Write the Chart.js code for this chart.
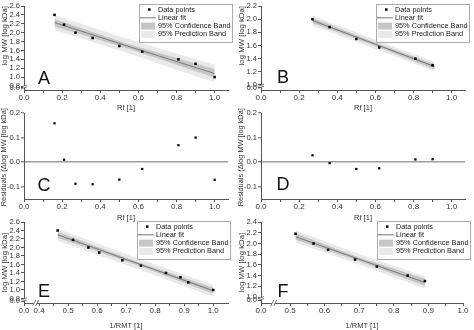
<!DOCTYPE html>
<html>
<head>
<meta charset="utf-8">
<script src="https://cdn.jsdelivr.net/npm/chart.js@4.4.1/dist/chart.umd.min.js"></script>
<style>
  body { margin: 0; background: #fff; }
  #fig { position: relative; width: 474px; height: 330px; overflow: hidden; }
  #fig canvas { position: absolute; }
</style>
</head>
<body>
<div id="fig">
  <canvas id="panelA" width="237" height="112" style="left:0;top:0"></canvas>
  <canvas id="panelB" width="237" height="112" style="left:237px;top:0"></canvas>
  <canvas id="panelC" width="237" height="114" style="left:0;top:108px"></canvas>
  <canvas id="panelD" width="237" height="114" style="left:237px;top:108px"></canvas>
  <canvas id="panelE" width="237" height="113" style="left:0;top:217px"></canvas>
  <canvas id="panelF" width="237" height="113" style="left:237px;top:217px"></canvas>
</div>
<script>
// --- data ---
// A / C: all nine markers vs Rf
const rfAll = [0.16, 0.21, 0.27, 0.36, 0.50, 0.62, 0.81, 0.90, 1.00];
const logMwAll = [2.40, 2.18, 2.00, 1.88, 1.70, 1.57, 1.40, 1.30, 1.00];
const residualsC = [0.158, 0.010, -0.088, -0.090, -0.071, -0.028, 0.069, 0.100, -0.072];
// B / D: six markers vs Rf
const rfSub = [0.27, 0.36, 0.50, 0.62, 0.81, 0.90];
const logMwSub = [2.00, 1.88, 1.70, 1.57, 1.40, 1.30];
const residualsD = [0.028, -0.004, -0.028, -0.025, 0.011, 0.012];
// E: ten markers vs 1/RMT
const invRmtE = [0.464, 0.517, 0.570, 0.607, 0.687, 0.751, 0.837, 0.887, 0.914, 1.000];
const logMwE = [2.40, 2.18, 2.00, 1.88, 1.70, 1.57, 1.40, 1.30, 1.18, 1.00];
// F: seven markers vs 1/RMT
const invRmtF = [0.516, 0.568, 0.610, 0.688, 0.751, 0.840, 0.890];
const logMwF = [2.18, 2.00, 1.88, 1.70, 1.57, 1.40, 1.30];

// fit line and bands (start / middle / end of each fit)
const bandXA = [0.16, 0.55, 1.00];
const fitA = [2.23, 1.69, 1.08];
const confHiA = [2.31, 1.74, 1.18];
const confLoA = [2.14, 1.64, 0.99];
const predHiA = [2.40, 1.85, 1.28];
const predLoA = [2.06, 1.53, 0.88];

const bandXB = [0.27, 0.59, 0.91];
const fitB = [1.98, 1.63, 1.28];
const confHiB = [2.02, 1.655, 1.32];
const confLoB = [1.94, 1.605, 1.24];
const predHiB = [2.05, 1.70, 1.355];
const predLoB = [1.90, 1.56, 1.205];

const bandXE = [0.464, 0.73, 1.00];
const fitE = [2.30, 1.645, 0.98];
const confHiE = [2.37, 1.685, 1.05];
const confLoE = [2.23, 1.605, 0.91];
const predHiE = [2.44, 1.77, 1.12];
const predLoE = [2.16, 1.52, 0.84];

const bandXF = [0.516, 0.70, 0.89];
const fitF = [2.126, 1.707, 1.273];
const confHiF = [2.19, 1.74, 1.34];
const confLoF = [2.07, 1.67, 1.21];
const predHiF = [2.24, 1.805, 1.385];
const predLoF = [2.02, 1.61, 1.16];

// tick labels
const yTicksAE = [0.8, 1.0, 1.2, 1.4, 1.6, 1.8, 2.0, 2.2, 2.4, 2.6];
const yTicksB = [1.0, 1.2, 1.4, 1.6, 1.8, 2.0, 2.2];
const yTicksF = [1.0, 1.2, 1.4, 1.6, 1.8, 2.0, 2.2, 2.4];
const yTicksRes = [-0.1, 0.0, 0.1, 0.2];
const xTicksRf = [0.0, 0.2, 0.4, 0.6, 0.8, 1.0];
const xTicksE = [0.4, 0.5, 0.6, 0.7, 0.8, 0.9, 1.0];
const xTicksF = [0.5, 0.6, 0.7, 0.8, 0.9, 1.0];

const legendLabels = ['Data points', 'Linear fit', '95% Confidence Band', '95% Prediction Band'];

const FONT = "'Liberation Sans', Arial, sans-serif";
const FIT_COLOR = '#7f7f7f';
const CONF_COLOR = '#c6c6c6';
const PRED_COLOR = '#e9e9e9';
const AXIS_COLOR = '#555';

Chart.defaults.font.family = FONT;
Chart.defaults.color = '#333';

const pts = (xs, ys) => xs.map((x, i) => ({ x: x, y: ys[i] }));

// axis breaks, panel letter and the boxed legend
const panelDecor = {
    id: 'panelDecor',
    afterDraw(chart, args, o) {
        const ctx = chart.ctx;
        const area = chart.chartArea;
        ctx.save();
        ctx.strokeStyle = AXIS_COLOR;
        ctx.lineWidth = 0.8;
        if (o.yBreak != null) {
            const py = chart.scales.y.getPixelForValue(o.yBreak);
            const px = area.left;
            ctx.fillStyle = '#fff';
            ctx.fillRect(px - 1, py - 1, 2, 2);
            ctx.beginPath();
            ctx.moveTo(px - 3, py + 2); ctx.lineTo(px + 3, py);
            ctx.moveTo(px - 3, py);     ctx.lineTo(px + 3, py - 2);
            ctx.stroke();
        }
        if (o.xBreak != null) {
            const px = chart.scales.x.getPixelForValue(o.xBreak);
            const py = area.bottom;
            ctx.fillStyle = '#fff';
            ctx.fillRect(px - 1, py - 1, 3, 2);
            ctx.beginPath();
            ctx.moveTo(px - 2, py + 3); ctx.lineTo(px + 1, py - 3);
            ctx.moveTo(px + 1, py + 3); ctx.lineTo(px + 4, py - 3);
            ctx.stroke();
        }
        if (o.letter) {
            ctx.fillStyle = '#111';
            ctx.font = '18px ' + FONT;
            ctx.textAlign = 'center';
            ctx.textBaseline = 'middle';
            ctx.fillText(o.letter, o.letterX, o.letterY);
        }
        if (o.legend) {
            const lx = o.legend.x, ly = o.legend.y, w = 93, h = 38;
            ctx.fillStyle = '#fff';
            ctx.fillRect(lx, ly, w, h);
            ctx.strokeStyle = '#ababab';
            ctx.lineWidth = 1;
            ctx.strokeRect(lx + 0.5, ly + 0.5, w, h);
            ctx.font = '7.3px ' + FONT;
            ctx.textAlign = 'left';
            ctx.textBaseline = 'middle';
            legendLabels.forEach((label, i) => {
                const cy = ly + 5.5 + i * 8.3;
                if (i === 0) {
                    ctx.fillStyle = '#000';
                    ctx.fillRect(lx + 9, cy - 1.2, 2.5, 2.5);
                } else if (i === 1) {
                    ctx.strokeStyle = FIT_COLOR;
                    ctx.lineWidth = 1.1;
                    ctx.beginPath();
                    ctx.moveTo(lx + 1, cy); ctx.lineTo(lx + 17, cy);
                    ctx.stroke();
                } else {
                    ctx.fillStyle = i === 2 ? CONF_COLOR : PRED_COLOR;
                    ctx.fillRect(lx + 2, cy - 3.5, 14, 7);
                }
                ctx.fillStyle = '#222';
                ctx.fillText(label, lx + 19, cy);
            });
        }
        ctx.restore();
    }
};

function buildTicks(major, fake, minor) {
    const list = major.slice();
    if (minor) {
        for (let i = 0; i < major.length - 1; i++) list.push((major[i] + major[i + 1]) / 2);
    }
    if (fake != null) list.push(fake);
    return list.sort((a, b) => a - b);
}

function axisOptions(o) {
    const ticks = buildTicks(o.major, o.fake, o.minor);
    const isMajor = v => o.major.some(m => Math.abs(m - v) < 1e-9);
    const isFake = v => o.fake != null && Math.abs(v - o.fake) < 1e-9;
    return {
        type: 'linear',
        min: o.min,
        max: o.max,
        afterBuildTicks: s => { s.ticks = ticks.map(v => ({ value: v })); },
        afterFit: s => {
            if (o.height) s.height = o.height;
            if (o.width) s.width = o.width;
        },
        ticks: {
            autoSkip: false, maxRotation: 0, minRotation: 0,
            padding: 1,
            color: '#333',
            font: { size: o.width ? 7.6 : 8, lineHeight: 1 },
            callback: v => isFake(v) ? '0.0' : (isMajor(v) ? v.toFixed(1) : '')
        },
        grid: {
            drawOnChartArea: !!o.zeroLine,
            tickLength: 3,
            tickColor: AXIS_COLOR,
            tickWidth: 1,
            color: o.zeroLine
                ? (c => (c.tick && Math.abs(c.tick.value) < 1e-9) ? '#9e9e9e' : 'rgba(0,0,0,0)')
                : AXIS_COLOR,
            lineWidth: o.zeroLine ? 1.6 : 1
        },
        border: { color: AXIS_COLOR, width: 1 },
        title: {
            display: true,
            text: o.title,
            align: o.align || 'center',
            color: '#333',
            font: { size: o.titleSize || 7.8, lineHeight: 1 },
            padding: o.width ? { top: 0.5, bottom: 0 } : 0
        }
    };
}

function fitDatasets(xs, ys, bx, fit, cHi, cLo, pHi, pLo) {
    const band = (data, color, fill) => ({
        data: data, borderWidth: 0, borderColor: 'rgba(0,0,0,0)',
        backgroundColor: color, pointRadius: 0, fill: fill
    });
    return [
        { data: pts(xs, ys), showLine: false, pointStyle: 'rect', pointRadius: 1.8,
          pointBackgroundColor: '#000', pointBorderWidth: 0 },
        { data: pts(bx, fit), borderColor: FIT_COLOR, borderWidth: 1.1, pointRadius: 0, fill: false },
        band(pts(bx, cHi), CONF_COLOR, '+1'),
        band(pts(bx, cLo), CONF_COLOR, false),
        band(pts(bx, pHi), PRED_COLOR, '+1'),
        band(pts(bx, pLo), PRED_COLOR, false)
    ];
}

function residualDatasets(xs, rs) {
    return [{ data: pts(xs, rs), showLine: false, pointStyle: 'rect', pointRadius: 1.6,
              pointBackgroundColor: '#000', pointBorderWidth: 0 }];
}

function makePanel(id, p) {
    return new Chart(document.getElementById(id), {
        type: 'line',
        data: { datasets: p.datasets },
        options: {
            responsive: false,
            animation: false,
            devicePixelRatio: 1,
            layout: { padding: { top: p.padTop, right: p.padRight, left: 0, bottom: 0 } },
            plugins: {
                legend: { display: false },
                tooltip: { enabled: false },
                panelDecor: p.decor
            },
            scales: { x: p.x, y: p.y }
        },
        plugins: [panelDecor]
    });
}

const logMwTitle = 'log MW [log kDa]';
const residTitle = 'Residuals (\u0394log MW [log kDa])';

makePanel('panelA', {
    padTop: 6, padRight: 9,
    datasets: fitDatasets(rfAll, logMwAll, bandXA, fitA, confHiA, confLoA, predHiA, predLoA),
    x: axisOptions({ min: 0, max: 1.07, major: xTicksRf, minor: true, height: 22, title: 'Rf [1]', titleSize: 7.5 }),
    y: axisOptions({ min: 0.71, max: 2.6, major: yTicksAE, fake: 0.76, width: 24, title: logMwTitle, align: 'end' }),
    decor: { yBreak: 0.78, letter: 'A', letterX: 44, letterY: 79, legend: { x: 139, y: 4 } }
});

makePanel('panelB', {
    padTop: 6, padRight: 9,
    datasets: fitDatasets(rfSub, logMwSub, bandXB, fitB, confHiB, confLoB, predHiB, predLoB),
    x: axisOptions({ min: 0, max: 1.07, major: xTicksRf, minor: true, height: 22, title: 'Rf [1]', titleSize: 7.5 }),
    y: axisOptions({ min: 0.924, max: 2.2, major: yTicksB, fake: 0.962, width: 24, title: logMwTitle, align: 'end' }),
    decor: { yBreak: 0.981, letter: 'B', letterX: 46, letterY: 78, legend: { x: 139, y: 4 } }
});

makePanel('panelC', {
    padTop: 5, padRight: 9,
    datasets: residualDatasets(rfAll, residualsC),
    x: axisOptions({ min: 0, max: 1.07, major: xTicksRf, minor: true, height: 23, title: 'Rf [1]', titleSize: 7.5 }),
    y: axisOptions({ min: -0.15, max: 0.2, major: yTicksRes, width: 24, title: residTitle, zeroLine: true, titleSize: 7.4 }),
    decor: { letter: 'C', letterX: 44, letterY: 78 }
});

makePanel('panelD', {
    padTop: 5, padRight: 9,
    datasets: residualDatasets(rfSub, residualsD),
    x: axisOptions({ min: 0, max: 1.07, major: xTicksRf, minor: true, height: 23, title: 'Rf [1]', titleSize: 7.5 }),
    y: axisOptions({ min: -0.15, max: 0.2, major: yTicksRes, width: 24, title: residTitle, zeroLine: true, titleSize: 7.4 }),
    decor: { letter: 'D', letterX: 46, letterY: 77 }
});

makePanel('panelE', {
    padTop: 5, padRight: 9,
    datasets: fitDatasets(invRmtE, logMwE, bandXE, fitE, confHiE, confLoE, predHiE, predLoE),
    x: axisOptions({ min: 0.348, max: 1.051, major: xTicksE, fake: 0.348, minor: true, height: 27, title: '1/RMT [1]', titleSize: 7.5 }),
    y: axisOptions({ min: 0.694, max: 2.6, major: yTicksAE, fake: 0.74, width: 24, title: logMwTitle }),
    decor: { yBreak: 0.77, xBreak: 0.385, letter: 'E', letterX: 44, letterY: 75, legend: { x: 137, y: 4 } }
});

makePanel('panelF', {
    padTop: 5, padRight: 11,
    datasets: fitDatasets(invRmtF, logMwF, bandXF, fitF, confHiF, confLoF, predHiF, predLoF),
    x: axisOptions({ min: 0.416, max: 1.0, major: xTicksF, fake: 0.416, minor: true, height: 27, title: '1/RMT [1]', titleSize: 7.5 }),
    y: axisOptions({ min: 0.89, max: 2.4, major: yTicksF, fake: 0.944, width: 24, title: logMwTitle }),
    decor: { yBreak: 0.972, xBreak: 0.45, letter: 'F', letterX: 46, letterY: 75, legend: { x: 140, y: 4 } }
});
</script>
</body>
</html>
